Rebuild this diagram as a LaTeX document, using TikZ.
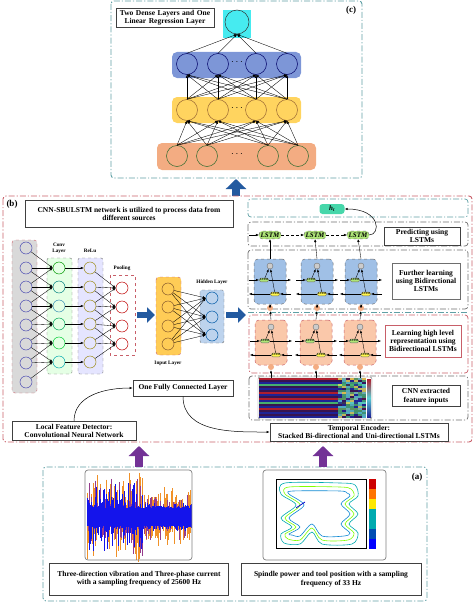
\documentclass[tikz,border=0pt]{standalone}
\usepackage{fontspec}
\setmainfont{Liberation Serif}
\usetikzlibrary{arrows.meta,positioning,calc}

\definecolor{tealdash}{RGB}{95,160,165}
\definecolor{reddash}{RGB}{200,95,105}
\definecolor{graydash}{RGB}{110,110,110}
\definecolor{denseblue}{RGB}{125,150,215}
\definecolor{denseyellow}{RGB}{255,212,95}
\definecolor{denseorange}{RGB}{243,172,130}
\definecolor{outcyan}{RGB}{70,235,240}
\definecolor{arrowblue}{RGB}{35,90,160}
\definecolor{arrowpurple}{RGB}{115,50,150}
\definecolor{lstmgreen}{RGB}{175,230,120}
\definecolor{htgreen}{RGB}{70,215,170}
\definecolor{cellblue}{RGB}{160,192,230}
\definecolor{cellorange}{RGB}{250,200,170}
\definecolor{sigorange}{RGB}{240,145,40}
\definecolor{sigpurple}{RGB}{150,60,140}
\definecolor{sigblue}{RGB}{20,20,235}
\definecolor{hmdark}{RGB}{55,20,80}
\definecolor{hmblue}{RGB}{30,35,150}
\definecolor{hmred}{RGB}{175,30,45}
\definecolor{hmgreen}{RGB}{70,175,110}
\definecolor{hmyellow}{RGB}{230,220,90}
\definecolor{hmcyan}{RGB}{90,205,210}

\begin{document}
\begin{tikzpicture}[x=1pt, y=-1pt,
  panelline/.style={line width=0.9pt, dash pattern=on 6pt off 2pt on 1.2pt off 2pt, rounded corners=3pt},
  txtbox/.style={draw=black!75, line width=0.8pt, fill=white, font=\fontsize{7.5}{8.4}\selectfont\bfseries, align=center, inner sep=1.5pt},
  tinylabel/.style={font=\fontsize{5.2}{5.7}\selectfont\bfseries, align=center},
  neuron/.style={circle, draw, line width=0.5pt, inner sep=0pt},
  link/.style={-{Latex[length=3pt,width=2.4pt]}, line width=0.35pt},
  fatarrow/.style={line width=8pt, -{Triangle[length=10pt,width=20pt]}},
  lstmnode/.style={draw=graydash, dashed, fill=lstmgreen, rounded corners=3pt, font=\fontsize{7}{7}\selectfont\bfseries\itshape, inner sep=1.5pt},
  cellbox/.style={dashed, draw=graydash, line width=0.5pt, rounded corners=4pt, minimum width=32, minimum height=45},
  minilstm/.style={draw=graydash, rounded corners=1.5pt, font=\fontsize{3}{3}\selectfont\bfseries\itshape, inner sep=0.8pt},
  sigma/.style={circle, draw=graydash, fill=gray!40, minimum size=6, inner sep=0pt},
  dotin/.style={circle, fill=denseorange, minimum size=6, inner sep=0pt}
]
\useasboundingbox (0,0) rectangle (474,602);

% ---------------- (c) dense layers ----------------
\draw[panelline, draw=tealdash] (111,1) rectangle (362,178);
\node[font=\bfseries\small] (labc) at (351,10) {(c)};
\node[txtbox, text width=95] (titlec) at (165,18) {Two Dense Layers and One\\Linear Regression Layer};

\fill[outcyan] (223,10) rectangle (251,38);
\node[neuron, minimum size=24, draw=black!80] (out) at (237,22) {};

\fill[denseblue, rounded corners=5] (172,52) rectangle (301,78);
\fill[denseyellow, rounded corners=5] (172,97) rectangle (301,123);
\fill[denseorange, rounded corners=5] (157,143) rectangle (316,170);
\foreach \x [count=\i] in {187,218,256,287}{
  \node[neuron, minimum size=21, draw=blue!40!black] (dtwo\i) at (\x,64) {};
  \node[neuron, minimum size=21, draw=brown!80!black] (done\i) at (\x,110) {};
}
\foreach \x [count=\i] in {177,207,268,298}
  \node[neuron, minimum size=21, draw=gray!60!green!60!black] (din\i) at (\x,156) {};
\node (dotstwo) at (237,62) {$\cdots$};
\node (dotsone) at (237,108) {$\cdots$};
\node (dotsin) at (237,154) {$\cdots$};
\foreach \i in {1,...,4}{
  \draw[link] (dtwo\i.north) -- (out.south);
  \foreach \j in {1,...,4}{
    \draw[link] (din\i.north) -- (done\j.south);
    \draw[link] (done\i.north) -- (dtwo\j.south);
  }
}

% arrow from (b) to (c)
\coordinate (btop) at (236,196);
\coordinate (cbot) at (236,179);
\draw[fatarrow, arrowblue] (btop) -- (cbot);

% ---------------- (b) CNN-SBULSTM ----------------
\draw[panelline, draw=reddash] (3,196) rectangle (472,442);
\node[font=\bfseries\small] (labb) at (12,204) {(b)};
\node[txtbox, minimum width=208, minimum height=27] (titleb) at (129,214)
  {CNN-SBULSTM network is utilized to process data from\\different sources};

% layer backgrounds
\draw[dashed, draw=reddash, fill=gray!30, rounded corners=3] (12,240) rectangle (37,393);
\draw[dashed, draw=graydash, fill=green!10, rounded corners=2] (47,258) rectangle (72,374);
\draw[dashed, draw=graydash, fill=blue!10, rounded corners=2] (78,258) rectangle (103,374);
\draw[dashed, draw=reddash, fill=white] (110,275) rectangle (135,355);
\node[tinylabel] (convlab) at (59,248) {Conv\\Layer};
\node[tinylabel] (relulab) at (90,251) {ReLu};
\node[tinylabel] (poollab) at (122,268) {Pooling};

\foreach \y [count=\i] in {248,268,287,306,325,344,363,382}
  \node[neuron, minimum size=12, draw=blue!40!gray] (x\i) at (26,\y) {};
\foreach \y/\c [count=\i] in {268/green!60!black,287/teal,306/cyan!70!black,324/teal!70!green,343/green!60!teal,362/cyan!60!green}{
  \node[neuron, minimum size=12, draw=\c] (cv\i) at (59,\y) {};
  \node[neuron, minimum size=12, draw=olive!70!brown] (rl\i) at (90,\y) {};
  \draw[link] (cv\i) -- (rl\i);
}
\foreach \y [count=\i] in {288,307,326,344}
  \node[neuron, minimum size=12, draw=red!75!black] (pl\i) at (122,\y) {};
\foreach \i in {1,...,6}
  \foreach \k in {0,1,2}{
    \pgfmathtruncatemacro\s{\i+\k}
    \draw[link] (x\s) -- (cv\i.west);
  }
\foreach \i in {1,...,4}
  \foreach \k in {0,1,2}{
    \pgfmathtruncatemacro\s{\i+\k}
    \draw[link] (rl\s) -- (pl\i.west);
  }

\coordinate (poolout) at (137,315);
\coordinate (fcin) at (155,315);
\draw[fatarrow, arrowblue, line width=6pt, -{Triangle[length=8pt,width=15pt]}] (poolout) -- (fcin);

\draw[dashed, draw=reddash, fill=denseyellow!90!orange, rounded corners=3] (156,277) rectangle (181,355);
\draw[dashed, draw=graydash, fill=cellblue!70, rounded corners=2] (200,290) rectangle (224,343);
\node[tinylabel] (inlab) at (168,363) {Input Layer};
\node[tinylabel] (hidlab) at (212,282) {Hidden Layer};
\foreach \y [count=\i] in {289,307,326,344}
  \node[neuron, minimum size=12, draw=brown!70!black] (il\i) at (168,\y) {};
\foreach \y [count=\i] in {298,317,335}
  \node[neuron, minimum size=12, draw=teal!70!blue] (hl\i) at (212,\y) {};
\foreach \i in {1,...,4}
  \foreach \j in {1,...,3}
    \draw[link] (il\i) -- (hl\j.west);

\coordinate (hidout) at (226,315);
\coordinate (encin) at (246,315);
\draw[fatarrow, arrowblue, line width=6pt, -{Triangle[length=8pt,width=15pt]}] (hidout) -- (encin);

\node[txtbox, minimum width=100, minimum height=16] (fc) at (183,388) {One Fully Connected Layer};
\node[txtbox, minimum width=124, minimum height=19] (lfd) at (74,431) {Local Feature Detector:\\Convolutional Neural Network};
\node[txtbox, minimum width=178, minimum height=18] (temp) at (359,432) {Temporal Encoder:\\Stacked Bi-directional and Uni-directional LSTMs};
\draw[link, line width=0.5pt] (lfd.north) to[out=90, in=180] (fc.west);
\draw[link, line width=0.5pt] (fc.south) to[out=-90, in=180] (temp.west);

% temporal encoder boxes
\draw[panelline, draw=tealdash, line width=0.7pt] (248,199) rectangle (468,217);
\draw[panelline, draw=graydash, line width=0.7pt] (248,222) rectangle (468,246);
\draw[panelline, draw=graydash, line width=0.7pt] (248,250) rectangle (468,309);
\draw[panelline, draw=tealdash, line width=0.7pt] (248,312) -- (468,312);
\draw[panelline, draw=reddash, line width=0.7pt] (249,315) rectangle (468,373);
\draw[panelline, draw=graydash, line width=0.7pt] (249,376) rectangle (468,420);

\node[fill=htgreen, rounded corners=3pt, font=\fontsize{7}{7}\selectfont\bfseries\itshape, minimum width=25, minimum height=10, inner sep=1pt] (ht) at (332,209) {h\textsubscript{t}};

\coordinate (lstmin) at (249,235);
\foreach \x [count=\i] in {270,315,358}
  \node[lstmnode] (lstm\i) at (\x,235) {LSTM};
\draw[link] (lstmin) -- (lstm1.west);
\draw[link, densely dashed] (lstm1.east) -- (lstm2.west);
\draw[link, densely dashed] (lstm2.east) -- (lstm3.west);
\draw[link, line width=0.5pt] (lstm3.east) .. controls (381,235) and (381,209) .. (ht.east);
\node[txtbox, minimum width=76, minimum height=18] (predlab) at (422,236) {Predicting using\\LSTMs};

% stacked bidirectional cells
\foreach \cx/\rx [count=\i] in {270/271,317/316,361/360}{
  \node[cellbox, fill=cellblue] (bc\i) at (\cx,281.5) {};
  \node[sigma] (bs\i) at (\cx,266) {};
  \node[minilstm, fill=lstmgreen] (bf\i) at (\cx-6,280) {LSTM};
  \node[minilstm, fill=yellow!70] (bb\i) at (\cx+5,294) {LSTM};
  \coordinate (bfl\i) at (\cx-21,280);
  \coordinate (bfr\i) at (\cx+21,280);
  \coordinate (bbl\i) at (\cx-21,294);
  \coordinate (bbr\i) at (\cx+21,294);
  \draw[link] (bfl\i) -- (bf\i.west);
  \draw[link] (bf\i.east) -- (bfr\i);
  \draw[link] (bbr\i) -- (bb\i.east);
  \draw[link] (bb\i.west) -- (bbl\i);
  \draw[link] (bf\i) -- (bs\i);
  \draw[link] (bb\i) -- (bs\i);
  \draw[link] (bc\i.north) -- (lstm\i.south);
  \node[dotin] (oc\i) at (\cx,308) {};
  \draw[link] (oc\i) -- (bc\i.south);
  % lower level
  \node[cellbox, fill=cellorange, draw=reddash] (rc\i) at (\rx,342.5) {};
  \node[sigma] (rs\i) at (\rx,327) {};
  \node[minilstm, fill=lstmgreen] (rf\i) at (\rx-6,341) {LSTM};
  \node[minilstm, fill=yellow!70] (rb\i) at (\rx+5,355) {LSTM};
  \coordinate (rfl\i) at (\rx-21,341);
  \coordinate (rfr\i) at (\rx+21,341);
  \coordinate (rbl\i) at (\rx-21,355);
  \coordinate (rbr\i) at (\rx+21,355);
  \draw[link] (rfl\i) -- (rf\i.west);
  \draw[link] (rf\i.east) -- (rfr\i);
  \draw[link] (rbr\i) -- (rb\i.east);
  \draw[link] (rb\i.west) -- (rbl\i);
  \draw[link] (rf\i) -- (rs\i);
  \draw[link] (rb\i) -- (rs\i);
  \draw[link] (rc\i.north) -- (oc\i);
  \node[dotin] (od\i) at (\rx,367) {};
  \coordinate (hin\i) at (\rx,378);
  \draw[link] (hin\i) -- (od\i);
}
\node[txtbox, minimum width=68, minimum height=36, draw=graydash] (furtherlab) at (426,281) {Further learning\\using Bidirectional\\LSTMs};
\node[txtbox, minimum width=76, minimum height=32, draw=reddash] (highlab) at (423,341) {Learning high level\\representation using\\Bidirectional LSTMs};

% CNN feature map
\pgfmathsetseed{5}
\pgfmathdeclarerandomlist{hmlist}{{hmgreen}{hmcyan}{hmyellow}{hmdark}{hmblue}{hmgreen}{hmcyan}}
\foreach \c [count=\i from 0] in {hmred,hmdark,hmblue,hmgreen,hmdark,hmblue,hmdark,hmred,hmblue,hmdark,hmred,hmblue,hmgreen,hmdark,hmblue,hmred,hmdark,hmblue,hmdark,hmblue}{
  \fill[\c] (259,378+2*\i) rectangle (366,380+2*\i);
  \foreach \x in {338,342,...,362}{
    \pgfmathrandomitem{\cc}{hmlist}
    \fill[\cc!80!\c] (\x,378+2*\i) rectangle (\x+4,380+2*\i);
  }
}
\shade[top color=hmred, bottom color=hmblue, middle color=hmcyan] (367,379) rectangle (371,417);
\node[draw=graydash, rounded corners=2, minimum width=114, minimum height=42, inner sep=0pt] (hmap) at (315,398) {};
\node[txtbox, minimum width=68, minimum height=21] (cnnlab) at (426,396) {CNN extracted\\feature inputs};

% ---------------- (a) data sources ----------------
\draw[panelline, draw=tealdash] (43,467) rectangle (427,601);
\node[font=\bfseries\small] (laba) at (417,477) {(a)};

\coordinate (aleft) at (139,467);
\coordinate (bleft) at (139,446);
\coordinate (aright) at (323,467);
\coordinate (bright) at (323,446);
\draw[fatarrow, arrowpurple] (aleft) -- (bleft);
\draw[fatarrow, arrowpurple] (aright) -- (bright);

% vibration / current signal
\pgfmathsetseed{11}
\foreach \x in {87,87.8,...,191}{
  \pgfmathsetmacro\amp{\x<143 ? 38 : 22}
  \pgfmathsetmacro\up{8+\amp*rnd^2}
  \pgfmathsetmacro\dn{8+\amp*rnd^2}
  \draw[sigorange, line width=0.45pt] (\x,517-\up) -- (\x,517+\dn);
}
\foreach \x in {87.3,88.3,...,191}{
  \pgfmathsetmacro\amp{\x<143 ? 32 : 16}
  \pgfmathsetmacro\up{7+\amp*rnd^3}
  \pgfmathsetmacro\dn{7+\amp*rnd^3}
  \draw[sigpurple, line width=0.4pt] (\x,517-\up) -- (\x,517+\dn);
}
\foreach \x in {87,87.4,...,191}{
  \pgfmathsetmacro\amp{\x<143 ? 26 : 5}
  \pgfmathsetmacro\up{9+\amp*rnd^4}
  \pgfmathsetmacro\dn{9+\amp*rnd^4}
  \draw[sigblue, line width=0.5pt] (\x,517-\up) -- (\x,517+\dn);
}
\node[draw=gray, line width=0.7pt, rounded corners=3, minimum width=107, minimum height=90, inner sep=0pt] (sigimg) at (138.5,515) {};

% tool path / spindle power
\draw[line width=0.4pt] (276,479) rectangle (366,548);
\foreach \o/\c in {0/cyan!60!green, 4/green!50!yellow, 8/cyan!70!blue}
  \draw[\c, line width=0.6pt] plot[smooth cycle] coordinates {
    (285+\o,483+\o) (340,483+\o) (355-\o,485+\o) (358-\o,496) (349-\o,504)
    (358-\o,514) (349-\o,524) (358-\o,533) (352-\o,544-\o) (322,544-\o)
    (312,532-\o) (300,544-\o) (284+\o,543-\o) (281+\o,534) (292+\o,527)
    (281+\o,518) (296+\o,505) (281+\o,494)};
\draw[blue!80!black, line width=0.8pt] (296,508) -- (305,502);
\foreach \c [count=\i from 0] in {red!80!black,orange!90!red,yellow!90!orange,cyan!60!green,cyan!60!green,blue!40!teal,blue}
  \fill[\c] (369,479+10*\i) rectangle (376,489+10*\i);
\node[draw=gray, line width=0.7pt, rounded corners=3, minimum width=123, minimum height=90, inner sep=0pt] (toolimg) at (324.5,515) {};

\node[txtbox, minimum width=179, minimum height=32] (capl) at (139,579)
  {Three-direction vibration and Three-phase current\\with a sampling frequency of 25600 Hz};
\node[txtbox, minimum width=180, minimum height=32] (capr) at (331,579)
  {Spindle power and tool position with a sampling\\frequency of 33 Hz};
\end{tikzpicture}
\end{document}
